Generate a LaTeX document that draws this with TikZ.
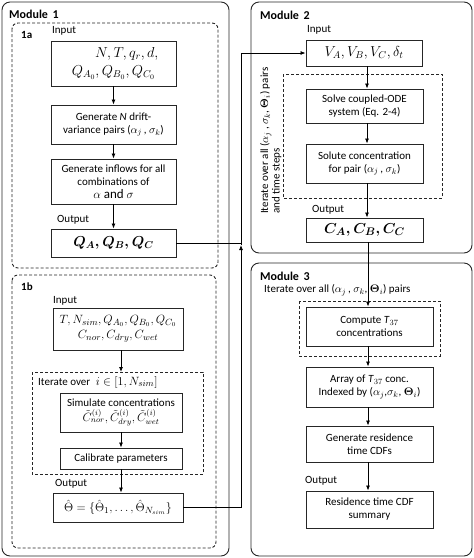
\documentclass[tikz,border=0pt]{standalone}
\usepackage{amsmath}
\usepackage[no-math]{fontspec}
\setmainfont{Carlito}
\usetikzlibrary{arrows.meta}
\begin{document}
\begin{tikzpicture}[x=1pt,y=-1pt,
  every node/.style={inner sep=1pt},
  module/.style={draw=black!85, line width=0.9pt, rounded corners=8pt},
  dbox/.style={draw=black!85, line width=0.9pt, dash pattern=on 3pt off 2pt, rounded corners=6pt},
  diter/.style={draw=black!85, line width=0.9pt, dash pattern=on 3pt off 2pt},
  bx/.style={draw=black!85, line width=0.9pt, align=center, font=\fontsize{11}{13}\selectfont, inner sep=0.5pt},
  lbl/.style={anchor=west, font=\fontsize{11}{12}\selectfont},
  mlbl/.style={anchor=west, font=\fontsize{12}{14}\selectfont\bfseries},
  arr/.style={-{Latex[length=5pt,width=4pt]}, line width=0.8pt}]
\useasboundingbox (0,0) rectangle (474,558);

% module frames
\draw[module] (2,2) rectangle (229,556);
\draw[module] (251,2) rectangle (472,253);
\draw[module] (251,263) rectangle (472,556);
\draw[dbox] (12,23) rectangle (218,268);
\draw[dbox] (12,275) rectangle (216,548);

\node[mlbl] (m1) at (8,14) {Module\, 1};
\node[mlbl] (m2) at (259,15) {Module\, 2};
\node[mlbl] (m3) at (259,276) {Module\, 3};
\node[mlbl, font=\fontsize{11}{12}\selectfont\bfseries] (l1a) at (20,35) {1a};
\node[mlbl, font=\fontsize{11}{12}\selectfont\bfseries] (l1b) at (20,287) {1b};

% ---- 1a
\node[lbl] (i1a) at (51,31) {Input};
\node[bx, minimum width=125, minimum height=45, font=\fontsize{14}{18}\selectfont] (in1a) at (113.5,63.5)
  {\hspace*{1.9em}$N, T, q_r, d,$\\ $Q_{A_0}, Q_{B_0}, Q_{C_0}$};
\node[bx, minimum width=125, minimum height=39] (gen) at (113.5,124.5)
  {Generate \textit{N} drift-\\ variance pairs ($\alpha_j$\,, $\sigma_k$)};
\node[bx, minimum width=125, minimum height=45] (inf) at (113.5,181.5)
  {Generate inflows for all\\ combinations of\\ \fontsize{13}{14}\selectfont$\alpha$ and $\sigma$};
\node[lbl] (o1a) at (56,220) {Output};
\node[bx, minimum width=125, minimum height=28, font=\fontsize{14}{16}\selectfont] (out1a) at (113.5,243)
  {$\boldsymbol{Q_A, Q_B, Q_C}$};
\draw[arr] (in1a) -- (gen);
\draw[arr] (gen) -- (inf);
\draw[arr] (inf) -- (out1a);

% ---- 1b
\node[lbl] (i1b) at (52,301) {Input};
\node[bx, minimum width=130, minimum height=42, font=\fontsize{12.5}{15}\selectfont, inner sep=0pt] (in1b) at (118,329)
  {$T, N_{sim}, Q_{A_0}, Q_{B_0}, Q_{C_0}$\\ $C_{nor}, C_{dry}, C_{wet}$};
\draw[diter] (32,372) rectangle (203,474);
\coordinate (it1top) at (121,372);
\coordinate (it1bot) at (121,474);
\node[lbl] (itlbl) at (37,382) {Iterate over\; \fontsize{12.5}{13}\selectfont$i \in [1, N_{sim}]$};
\node[bx, minimum width=122, minimum height=39] (sim) at (121,412.5)
  {Simulate concentrations\\[2.5pt] \fontsize{11.5}{12}\selectfont$\tilde{C}^{(i)}_{nor}, \tilde{C}^{(i)}_{dry}, \tilde{C}^{(i)}_{wet}$};
\node[bx, minimum width=122, minimum height=21] (cal) at (121,458.5) {Calibrate parameters};
\node[lbl] (o1b) at (54,484) {Output};
\node[bx, minimum width=130, minimum height=29, font=\fontsize{12.5}{14}\selectfont] (theta) at (118,507.5)
  {$\hat{\Theta} = \{\hat{\Theta}_1, \ldots, \hat{\Theta}_{N_{sim}}\}$};
\draw[arr] (in1b.south -| it1top) -- (it1top);
\draw[arr] (sim) -- (cal);
\draw[arr] (it1bot) -- (it1bot |- theta.north);
\draw[line width=0.8pt] (cal.south -| it1bot) -- (it1bot);

% ---- Module 2
\node[lbl] (i2) at (306,30) {Input};
\node[bx, minimum width=116, minimum height=26, font=\fontsize{14.5}{16}\selectfont] (vbox) at (364,53)
  {$V_A, V_B, V_C, \delta_t$};
\draw[diter] (283,74) rectangle (442,198);
\node[bx, minimum width=117, minimum height=34] (solve) at (364.5,106)
  {Solve coupled-ODE\\ system (Eq. 2-4)};
\node[bx, minimum width=117, minimum height=39] (solute) at (364.5,163.5)
  {Solute concentration\\ for pair ($\alpha_j$\,, $\sigma_k$)};
\node[lbl] (o2) at (311,210) {Output};
\node[bx, minimum width=117, minimum height=24, font=\fontsize{15}{16}\selectfont] (cbox) at (364.5,230)
  {$\boldsymbol{C_A, C_B, C_C}$};
\node[rotate=90, anchor=north west, align=left, font=\fontsize{11}{11.5}\selectfont, inner sep=0pt] (rot) at (260,214)
  {Iterate over all ($\alpha_j$\,, $\sigma_k$, $\boldsymbol{\Theta}_i$) pairs\\ and time steps};
\coordinate (x2) at (367,0);
\draw[arr] (vbox.south -| x2) -- (solve.north -| x2);
\draw[arr] (solve.south -| x2) -- (solute.north -| x2);
\draw[arr] (solute.south -| x2) -- (cbox.north -| x2);

% ---- Module 3
\node[lbl, inner sep=0pt] (it3) at (264,290) {Iterate over all ($\alpha_j$\,, $\sigma_k$, $\boldsymbol{\Theta}_i$) pairs};
\draw[diter] (299,301) rectangle (440,356);
\node[bx, minimum width=127, minimum height=39] (comp) at (369.5,326.5)
  {Compute \textit{T}$_{37}$\\ concentrations};
\node[bx, minimum width=127, minimum height=40] (array) at (369.5,387)
  {Array of \textit{T}$_{37}$ conc.\\ Indexed by ($\alpha_j$,$\sigma_k$, $\boldsymbol{\Theta}_i$)};
\node[bx, minimum width=127, minimum height=36] (genres) at (369.5,444)
  {Generate residence\\ time CDFs};
\node[lbl] (o3) at (304,481) {Output};
\node[bx, minimum width=127, minimum height=37] (res) at (369.5,509.5)
  {Residence time CDF\\ summary};
\coordinate (x3) at (368,0);
\draw[arr] (cbox.south -| x3) -- (comp.north -| x3);
\draw[arr] (comp.south -| x3) -- (array.north -| x3);
\draw[arr] (array.south -| x3) -- (genres.north -| x3);
\draw[arr] (genres.south -| x3) -- (res.north -| x3);

% ---- cross connections
\coordinate (j) at (241,245);
\draw[line width=0.8pt] (out1a.east) -- (out1a.east -| j);
\draw[arr] (theta.east) -| (j);
\draw[arr] (j) |- (vbox.west);
\end{tikzpicture}
\end{document}
